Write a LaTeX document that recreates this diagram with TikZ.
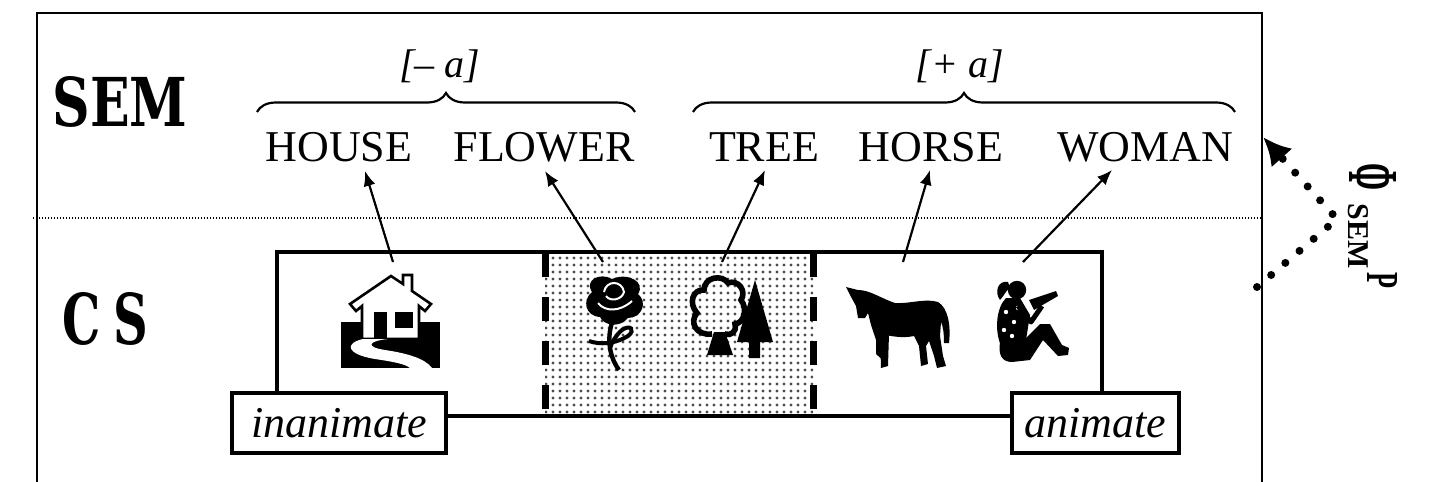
\documentclass[tikz,border=0pt]{standalone}
\usepackage{fontspec}
\setmainfont{Liberation Serif}
\newfontfamily\headfont{DejaVu Serif}
\usepackage{graphicx}
\usetikzlibrary{arrows.meta,decorations.pathreplacing,patterns}
\pgfdeclarepatternformonly{bigdots}{\pgfqpoint{-1pt}{-1pt}}{\pgfqpoint{1pt}{1pt}}{\pgfqpoint{3.5pt}{3.5pt}}{\pgfpathcircle{\pgfqpoint{0pt}{0pt}}{0.8pt}\pgfusepath{fill}}
\begin{document}
\begin{tikzpicture}[x=0.5pt,y=-0.5pt,
  word/.style={inner sep=0pt, anchor=base, font=\fontsize{22}{26}\selectfont},
  feat/.style={inner sep=0pt, font=\fontsize{20}{24}\selectfont\itshape},
  lbox/.style={draw, line width=1.6pt, fill=white, inner sep=0pt, minimum height=30pt, font=\fontsize{22}{26}\selectfont\itshape},
  maparrow/.style={line width=1.1pt, -{Latex[length=7.5pt,width=6pt]}},
  bracedeco/.style={line width=1.1pt, decorate, decoration={brace, amplitude=9.5pt}},
  framestyle/.style={line width=1pt},
  sepline/.style={line width=0.8pt, dash pattern=on 0.6pt off 0.9pt},
  dashside/.style={line width=3.5pt, dash pattern=on 12pt off 10pt},
  phiarrow/.style={line width=4pt, line cap=round, dash pattern=on 0pt off 9.3pt, -{Latex[length=14pt,width=14pt]}},
  philab/.style={rotate=-90, inner sep=0pt, font=\bfseries},
]
\useasboundingbox (0,0) rectangle (1432,482);

% frame and separator
\draw[framestyle] (37,482) -- (37,13) -- (1262,13) -- (1262,482);
\draw[sepline] (33,218) -- (1262,218);

% level labels
\node[inner sep=0pt] (sem) at (120,102) {\resizebox{67.5pt}{25pt}{\headfont\bfseries SEM}};
\node[inner sep=0pt] (cs) at (105.5,319) {\resizebox{42.5pt}{26pt}{\headfont\bfseries C\kern0.25em S}};

% words
\node[word] (house) at (339,161) {HOUSE};
\node[word] (flower) at (544,161) {FLOWER};
\node[word] (tree) at (764,161) {TREE};
\node[word] (horse) at (931,161) {HORSE};
\node[word] (woman) at (1145,161) {WOMAN};

% braces
\coordinate (bl1) at (257,112); \coordinate (bl2) at (635,112);
\coordinate (br1) at (693,112); \coordinate (br2) at (1235,112);
\draw[bracedeco] (bl1) -- (bl2);
\draw[bracedeco] (br1) -- (br2);
\node[feat] (minus) at (440,66) {[– a]};
\node[feat] (plus) at (960,66) {[+ a]};

% CS box with shaded middle
\fill[pattern=bigdots, pattern color=black!70] (545,252) rectangle (813,416);
\node[draw, line width=1.6pt, inner sep=0pt, minimum width=412.5pt, minimum height=82pt] (csbox) at (689.5,334) {};
\draw[dashside] (545,253) -- (545,416);
\draw[dashside] (813,253) -- (813,416);

% house icon
\fill (341,322) rectangle (440,368);
\draw[line width=1.3pt, fill=white] (350,304) -- (391,276) -- (403,284) -- (403,275) -- (412,275) -- (412,291) -- (431,304) -- (425,311) -- (419,306) -- (419,339) -- (362,339) -- (362,306) -- (356,311) -- cycle;
\fill (374,312) rectangle (387,340);
\fill (395,312) rectangle (413,328);
\fill[white] (363,339) .. controls (345,343) and (345,354) .. (375,359) .. controls (395,362) and (405,364) .. (410,368) -- (432,368) .. controls (425,358) and (405,353) .. (385,350) .. controls (365,347) and (368,341) .. (388,339) -- cycle;

% rose icon
\fill (592,292) .. controls (584,280) and (600,272) .. (612,279) .. controls (628,272) and (646,282) .. (638,294) .. controls (648,302) and (642,318) .. (628,318) .. controls (620,328) and (604,326) .. (600,317) .. controls (585,316) and (582,300) .. (592,292) -- cycle;
\draw[white, line width=1pt] (604,292) .. controls (606,280) and (622,280) .. (624,292) .. controls (622,300) and (610,302) .. (606,296);
\draw[white, line width=1pt] (598,303) .. controls (605,312) and (620,312) .. (632,301);
\draw[line width=2.2pt] (613,320) .. controls (607,335) and (608,355) .. (619,370);
\draw[line width=2pt] (589,341) .. controls (600,345) and (615,344) .. (628,336) .. controls (636,330) and (630,324) .. (622,330) .. controls (616,335) and (612,342) .. (610,348);

% tree icon
\draw[line width=2.8pt] (712,334) .. controls (696,336) and (689,322) .. (697,313) .. controls (688,303) and (693,289) .. (704,290) .. controls (704,277) and (722,274) .. (728,283) .. controls (738,279) and (747,291) .. (741,300) .. controls (748,309) and (744,323) .. (735,324) .. controls (737,332) and (731,336) .. (725,334);
\fill (714,332) -- (725,332) -- (733,355) -- (707,355) -- cycle;
\fill (755,280) -- (773,342) -- (760,342) -- (760,358) -- (749,358) -- (749,342) -- (737,342) -- cycle;

% horse icon
\fill (846,287) -- (858,290) .. controls (870,290) and (880,298) .. (895,303) .. controls (910,304) and (925,298) .. (938,302) .. controls (948,308) and (951,325) .. (949,343) -- (944,343) .. controls (944,333) and (943,326) .. (941,322) -- (940,336) -- (943,356) -- (946,366) -- (937,368) -- (934,356) -- (929,341) -- (926,346) -- (928,364) -- (921,366) -- (919,346) -- (914,336) .. controls (905,338) and (895,337) .. (886,335) -- (883,348) -- (888,357) -- (885,362) -- (876,354) -- (876,340) -- (871,325) -- (868,313) -- (865,318) -- (858,318) -- (856,306) -- (850,295) -- cycle;
\fill (880,334) -- (889,334) -- (888,366) -- (881,368) -- cycle;

% reading girl icon
\fill (1017,290) circle[radius=4.6pt];
\fill (1008,282) .. controls (998,280) and (994,292) .. (1000,300) .. controls (1004,296) and (1006,290) .. (1010,288) -- cycle;
\fill (1006,298) -- (1020,298) -- (1030,315) -- (1026,340) -- (1000,343) .. controls (995,330) and (996,308) .. (1006,298) -- cycle;
\fill[white] (1006,312) circle[radius=1.1pt] (1014,322) circle[radius=1.1pt] (1004,330) circle[radius=1.1pt] (1018,308) circle[radius=1.1pt] (1012,336) circle[radius=1.1pt];
\draw[line width=2.5pt, line join=round] (1018,306) -- (1031,322) -- (1042,306);
\fill (1029,300) -- (1056,291) -- (1058,296) -- (1034,310) -- cycle;
\fill (1000,342) .. controls (998,355) and (1002,362) .. (1012,362) -- (1030,360) -- (1043,340) -- (1058,356) -- (1068,355) -- (1069,348) -- (1062,345) -- (1050,324) -- (1040,324) -- (1026,338) -- cycle;

% category labels
\node[lbox, minimum width=107pt] (inan) at (339,423) {inanimate};
\node[lbox, minimum width=83.5pt] (anim) at (1095.5,423) {animate};

% mapping arrows
\coordinate (hs) at (393,262); \coordinate (ht) at (365,171);
\coordinate (fs) at (603,262); \coordinate (ft) at (545,171);
\coordinate (ts) at (722,262); \coordinate (tt) at (765,170);
\coordinate (os) at (903,262); \coordinate (ot) at (930,170);
\coordinate (ws) at (1023,262); \coordinate (wt) at (1112,170);
\draw[maparrow] (hs) -- (ht);
\draw[maparrow] (fs) -- (ft);
\draw[maparrow] (ts) -- (tt);
\draw[maparrow] (os) -- (ot);
\draw[maparrow] (ws) -- (wt);

% interface mapping
\coordinate (p1) at (1257,287); \coordinate (p2) at (1337,219); \coordinate (p3) at (1263,137);
\draw[phiarrow] (p1) -- (p2) -- (p3);
\node[philab, anchor=base west] (phisym) at (1349,163) {\resizebox{13.5pt}{23.5pt}{Φ}};
\node[philab, anchor=base west] (phisub) at (1348,203) {\resizebox{32.5pt}{10pt}{SEM}};
\node[philab, anchor=base west] (phisup) at (1367,272) {\resizebox{8pt}{15pt}{P}};
\end{tikzpicture}
\end{document}
